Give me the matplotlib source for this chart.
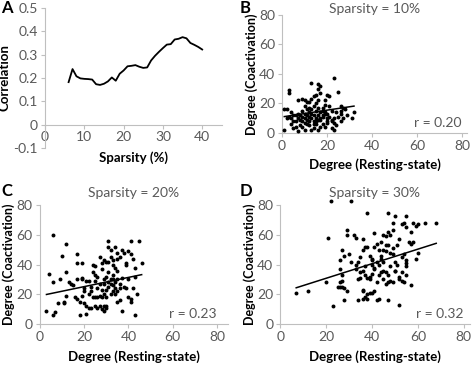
import matplotlib
matplotlib.use("Agg")
import matplotlib.pyplot as plt

plt.rcParams['font.family'] = ['Lato', 'DejaVu Sans']

# panel A: correlation vs sparsity
sparsity = [6, 7, 8, 9, 10, 11, 12, 13, 14, 15, 16, 17, 18, 19, 20, 21, 22, 23,
            24, 25, 26, 27, 28, 29, 30, 31, 32, 33, 34, 35, 36, 37, 38, 39, 40]
correlation = [0.182, 0.238, 0.207, 0.198, 0.196, 0.195, 0.193, 0.173, 0.170, 0.175,
               0.185, 0.202, 0.188, 0.218, 0.232, 0.250, 0.252, 0.255, 0.248, 0.243,
               0.245, 0.275, 0.295, 0.312, 0.328, 0.343, 0.345, 0.365, 0.368, 0.375,
               0.370, 0.350, 0.342, 0.333, 0.322]

# (resting-state degree, coactivation degree) per node
pts_10 = [(3, 29), (3, 27), (1, 16), (2, 16), (1, 2), (4, 6), (5, 8), (4, 10), (6, 12),
          (7, 22), (9, 23), (10, 22), (12, 21), (13, 34), (16, 33), (17, 32), (16, 30),
          (15, 26), (14, 25), (17, 27), (20, 26), (23, 37), (21, 25), (25, 28), (26, 18),
          (27, 17), (26, 15), (28, 16), (31, 10), (32, 14), (27, 10), (23, 10), (22, 8),
          (20, 8), (19, 4), (22, 3), (23, 2), (16, 2), (13, 2), (10, 2), (7, 1), (5, 3),
          (8, 5), (9, 8), (10, 10), (11, 12), (12, 14), (13, 16), (14, 18), (15, 20),
          (16, 22), (11, 16), (9, 15), (10, 18), (12, 17), (13, 10), (14, 8), (15, 6),
          (16, 12), (17, 9), (18, 11), (19, 14), (20, 13), (18, 17), (19, 19), (21, 18),
          (22, 15), (24, 14), (25, 11), (26, 8), (17, 4), (18, 6), (15, 10), (14, 12),
          (12, 8), (11, 6), (10, 7), (8, 9), (7, 10), (6, 8), (5, 12), (4, 14), (3, 11),
          (2, 10), (6, 4), (9, 4), (12, 5), (14, 3), (20, 10), (21, 11), (23, 7), (24, 5),
          (19, 22), (11, 21), (13, 23), (16, 17), (17, 14), (18, 15), (15, 15), (13, 13),
          (12, 11), (11, 9), (10, 13), (8, 12), (14, 6), (16, 9), (18, 12), (20, 7),
          (22, 9), (9, 11), (7, 13), (15, 8), (17, 10), (19, 13), (26, 13), (29, 12)]

pts_20 = [(6, 60), (12, 54), (10, 46), (17, 47), (4, 34), (6, 28), (12, 35), (14, 27),
          (15, 26), (3, 9), (6, 6), (7, 8), (8, 14), (11, 14), (11, 15), (12, 19),
          (17, 30), (19, 30), (19, 31), (17, 41), (19, 41), (16, 18), (17, 17), (18, 15),
          (19, 19), (18, 6), (20, 22), (21, 29), (22, 29), (20, 14), (21, 12), (22, 11),
          (21, 7), (23, 11), (24, 40), (25, 39), (24, 35), (25, 33), (26, 32), (25, 29),
          (26, 24), (23, 25), (24, 18), (25, 18), (26, 18), (27, 19), (25, 12), (26, 11),
          (27, 12), (28, 10), (29, 12), (29, 9), (30, 12), (30, 11), (27, 45), (28, 41),
          (28, 37), (29, 43), (29, 30), (29, 27), (30, 42), (31, 42), (31, 35), (31, 52),
          (31, 56), (32, 50), (32, 45), (33, 40), (33, 43), (34, 52), (35, 48), (35, 44),
          (34, 38), (33, 33), (35, 36), (32, 27), (33, 26), (34, 28), (35, 30), (33, 22),
          (34, 24), (35, 22), (36, 24), (34, 20), (36, 16), (35, 15), (37, 9), (28, 18),
          (29, 20), (30, 23), (31, 25), (32, 20), (36, 45), (37, 50), (38, 48), (39, 41),
          (39, 40), (40, 49), (41, 56), (41, 47), (42, 44), (40, 30), (39, 24), (40, 18),
          (41, 17), (41, 15), (42, 24), (43, 38), (43, 32), (43, 6), (44, 20), (45, 56),
          (46, 41), (30, 32), (31, 28), (32, 30), (27, 27), (28, 23), (30, 18), (22, 20),
          (23, 22), (20, 24), (13, 28), (9, 30), (33, 30), (37, 31), (38, 25), (36, 27)]

pts_30 = [(22, 83), (31, 83), (38, 75), (47, 75), (50, 73), (55, 73), (21, 58), (29, 63),
          (29, 60), (32, 60), (33, 58), (41, 61), (45, 60), (46, 59), (47, 62), (48, 60),
          (49, 68), (49, 63), (52, 57), (53, 67), (54, 68), (55, 65), (58, 68), (59, 66),
          (60, 67), (63, 68), (68, 68), (57, 62), (58, 55), (56, 55), (57, 54), (59, 44),
          (60, 48), (27, 50), (28, 46), (30, 47), (31, 42), (33, 40), (34, 42), (35, 45),
          (36, 50), (37, 52), (38, 52), (39, 46), (40, 43), (41, 52), (42, 54), (43, 50),
          (44, 55), (45, 50), (46, 53), (47, 53), (48, 48), (49, 47), (50, 42), (51, 40),
          (53, 45), (54, 47), (55, 43), (55, 41), (55, 39), (26, 43), (26, 37), (27, 33),
          (26, 28), (27, 29), (27, 25), (26, 25), (28, 24), (29, 22), (28, 16), (23, 12),
          (25, 25), (20, 28), (7, 21), (12, 22), (34, 30), (35, 31), (36, 22), (36, 23),
          (37, 18), (38, 20), (39, 21), (40, 21), (41, 22), (42, 16), (43, 17), (47, 16),
          (52, 13), (36, 36), (37, 33), (38, 31), (39, 30), (40, 34), (41, 37), (42, 28),
          (43, 33), (44, 35), (45, 30), (46, 27), (47, 28), (48, 29), (49, 28), (50, 36),
          (52, 30), (52, 32), (53, 29), (54, 28), (55, 33), (57, 26), (34, 16), (36, 17),
          (38, 17), (39, 32), (40, 40), (41, 38), (42, 42), (43, 40), (44, 44), (45, 42),
          (46, 35), (47, 33), (48, 39), (50, 36), (33, 37), (35, 35), (37, 39), (44, 46),
          (46, 49), (49, 51), (51, 53), (53, 35), (36, 57), (40, 44), (45, 36)]

# trend lines (intercept, slope, x start, x end)
fit_10 = (10.8, 0.23, 1, 32)
fit_20 = (19.0, 0.31, 3, 46)
fit_30 = (21.0, 0.49, 7, 68)

grey_txt = '#595959'
grey_ax = '#bfbfbf'
fs = 10
fs_lab = 9.5

fig = plt.figure(figsize=(4.74, 3.65), dpi=100)


def style(ax):
    for s in ['top', 'right']:
        ax.spines[s].set_visible(False)
    for s in ['left', 'bottom']:
        ax.spines[s].set_color(grey_ax)
        ax.spines[s].set_linewidth(0.8)
    ax.tick_params(colors=grey_ax, labelcolor=grey_txt, labelsize=fs,
                   length=3, width=0.8, pad=2)


# A
axA = fig.add_axes([0.095, 0.595, 0.373, 0.383])
axA.plot(sparsity, correlation, color='black', lw=1.3)
axA.set_xlim(0, 45)
axA.set_ylim(-0.1, 0.5)
axA.set_xticks([0, 10, 20, 30, 40])
axA.set_yticks([-0.1, 0, 0.1, 0.2, 0.3, 0.4, 0.5])
axA.set_yticklabels(['-0.1', '0', '0.1', '0.2', '0.3', '0.4', '0.5'])
style(axA)
axA.spines['bottom'].set_position(('data', 0))
axA.set_ylabel('Correlation', fontsize=fs_lab, fontweight='bold', labelpad=2)
axA.set_xlabel('Sparsity (%)', fontsize=fs_lab, fontweight='bold', labelpad=6)


def scatter_panel(rect, pts, fit, xmax, title, rtext, tpad):
    ax = fig.add_axes(rect)
    xs = [p[0] for p in pts]
    ys = [p[1] for p in pts]
    ax.scatter(xs, ys, s=8, color='black', linewidths=0, clip_on=False, zorder=3)
    a, b, x0, x1 = fit
    ax.plot([x0, x1], [a + b * x0, a + b * x1], color='black', lw=1.1)
    ax.set_xlim(0, xmax)
    ax.set_ylim(0, 80)
    ax.set_xticks([0, 20, 40, 60, 80])
    ax.set_yticks([0, 20, 40, 60, 80])
    style(ax)
    ax.set_xlabel('Degree (Resting-state)', fontsize=fs_lab, fontweight='bold', labelpad=5)
    ax.set_ylabel('Degree (Coactivation)', fontsize=9, fontweight='bold', labelpad=1)
    ax.set_title(title, fontsize=fs, color=grey_txt, pad=tpad)
    ax.text(80, 7, rtext, ha='right', va='center', fontsize=fs, color=grey_txt)
    return ax


scatter_panel([0.595, 0.636, 0.39, 0.323], pts_10, fit_10, 82.2,
              'Sparsity = 10%', 'r = 0.20', 1)
scatter_panel([0.084, 0.112, 0.397, 0.326], pts_20, fit_20, 85,
              'Sparsity = 20%', 'r = 0.23', 6)
scatter_panel([0.591, 0.112, 0.40, 0.326], pts_30, fit_30, 82.6,
              'Sparsity = 30%', 'r = 0.32', 6)

for lbl, x, y in [('A', 0.003, 1.0), ('B', 0.505, 1.0),
                  ('C', 0.003, 0.5), ('D', 0.505, 0.5)]:
    fig.text(x, y, lbl, fontsize=12, fontweight='bold', ha='left', va='top')

fig.savefig('out.png', dpi=100)
